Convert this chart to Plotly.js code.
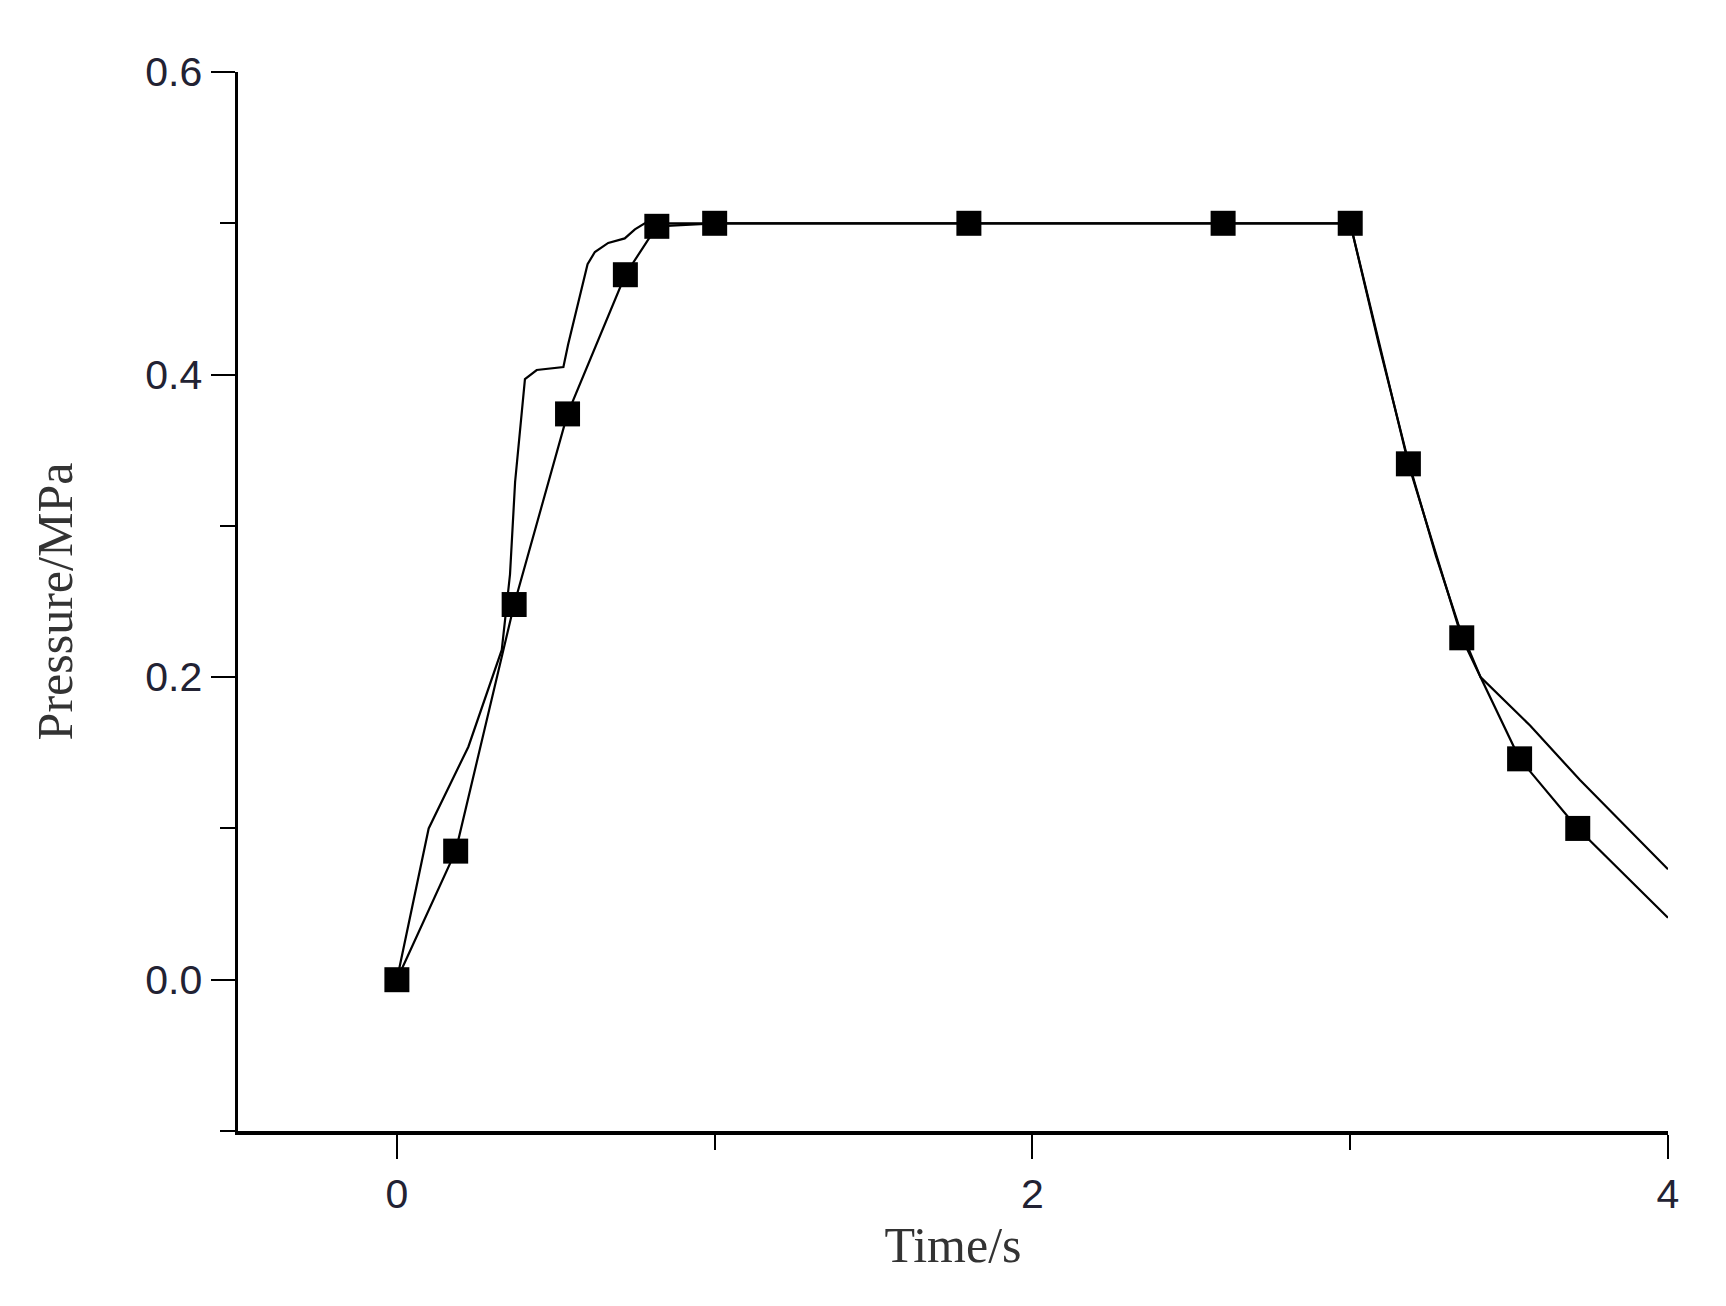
<!DOCTYPE html>
<html>
<head>
<meta charset="utf-8">
<script src="https://cdn.plot.ly/plotly-3.0.1.min.js"></script>
<style>
  html, body { margin: 0; padding: 0; background: #ffffff; }
  #chart { width: 1726px; height: 1306px; }
</style>
</head>
<body>
<div id="chart"></div>
<script>
// Series with square markers (time in s, pressure in MPa)
const markedTime = [0, 0.185, 0.369, 0.537, 0.719, 0.818, 1.0, 1.8, 2.6, 3.0, 3.183, 3.351, 3.533, 3.716, 4.0];
const markedPressure = [0, 0.085, 0.248, 0.374, 0.466, 0.498, 0.5, 0.5, 0.5, 0.5, 0.341, 0.226, 0.146, 0.100, 0.041];

// Series drawn as a plain line
const lineTime = [0, 0.1, 0.225, 0.33, 0.34, 0.356, 0.372, 0.387, 0.403, 0.44, 0.524, 0.539, 0.57, 0.6, 0.623, 0.665, 0.717, 0.749, 0.78, 3.0, 3.09, 3.18, 3.27, 3.34, 3.41, 3.566, 3.723, 3.87, 4.0];
const linePressure = [0, 0.1, 0.154, 0.218, 0.237, 0.268, 0.329, 0.363, 0.397, 0.403, 0.405, 0.42, 0.446, 0.473, 0.481, 0.487, 0.49, 0.496, 0.5, 0.5, 0.42, 0.345, 0.28, 0.235, 0.2, 0.168, 0.132, 0.101, 0.073];

const xTickVals = [0, 2, 4];
const xTickText = ['0', '2', '4'];
const yTickVals = [0, 0.2, 0.4, 0.6];
const yTickText = ['0.0', '0.2', '0.4', '0.6'];

const lastIdx = markedTime.length - 1;
const markerSizes = markedTime.map((_, i) => (i === lastIdx ? 0 : 25));

const traces = [
  {
    x: lineTime, y: linePressure,
    type: 'scatter', mode: 'lines',
    line: { color: '#000000', width: 2.2 },
    showlegend: false, hoverinfo: 'x+y'
  },
  {
    x: markedTime, y: markedPressure,
    type: 'scatter', mode: 'lines+markers',
    line: { color: '#000000', width: 2.2 },
    marker: { symbol: 'square', size: markerSizes, color: '#000000', opacity: 1, line: { width: 0 } },
    showlegend: false, hoverinfo: 'x+y'
  }
];

const tickFont = { family: 'Liberation Sans, Arial, sans-serif', size: 41, color: '#222233' };
const titleFont = { family: 'Liberation Serif, Times New Roman, serif', size: 50, color: '#333333' };

const layout = {
  width: 1726, height: 1306,
  margin: { l: 238, r: 58, t: 72, b: 175, pad: 0 },
  paper_bgcolor: '#ffffff', plot_bgcolor: '#ffffff',
  showlegend: false,
  xaxis: {
    range: [-0.5, 4],
    showline: true, linecolor: '#000000', linewidth: 3.5,
    showgrid: false, zeroline: false,
    ticks: 'outside', ticklen: 24, tickwidth: 2, tickcolor: '#000000',
    tickmode: 'array', tickvals: xTickVals, ticktext: xTickText,
    minor: { ticks: 'outside', ticklen: 15, tickwidth: 2, tickcolor: '#000000', tickmode: 'linear', tick0: 0, dtick: 1 },
    tickfont: tickFont,
    title: { text: 'Time/s', font: titleFont, standoff: 12 },
    automargin: false
  },
  yaxis: {
    range: [-0.1, 0.6],
    showline: true, linecolor: '#000000', linewidth: 3.5,
    showgrid: false, zeroline: false,
    ticks: 'outside', ticklen: 24, tickwidth: 2, tickcolor: '#000000',
    tickmode: 'array', tickvals: yTickVals, ticktext: yTickText,
    minor: { ticks: 'outside', ticklen: 15, tickwidth: 2, tickcolor: '#000000', tickmode: 'linear', tick0: -0.1, dtick: 0.1 },
    tickfont: tickFont,
    title: { text: 'Pressure/MPa', font: titleFont, standoff: 58 },
    automargin: false
  }
};

Plotly.newPlot('chart', traces, layout, { staticPlot: true, displayModeBar: false });
</script>
</body>
</html>
